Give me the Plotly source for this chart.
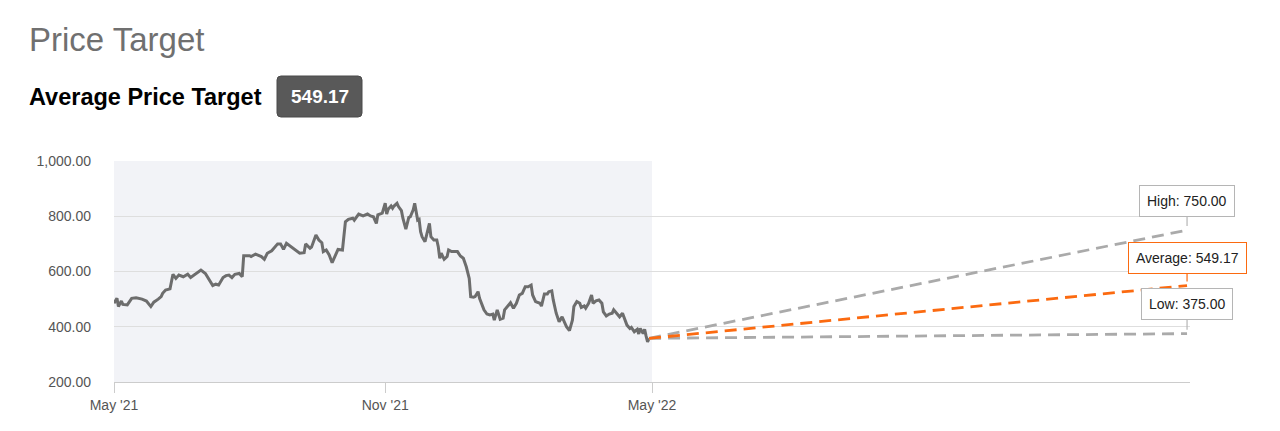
import plotly.graph_objects as go

price_dates = [
    "2021-05-01", "2021-05-03", "2021-05-04", "2021-05-06", "2021-05-07", "2021-05-10", "2021-05-13",
    "2021-05-16", "2021-05-20", "2021-05-23", "2021-05-26", "2021-05-28", "2021-05-31", "2021-06-02",
    "2021-06-03", "2021-06-05", "2021-06-08", "2021-06-10", "2021-06-12", "2021-06-14", "2021-06-17",
    "2021-06-20", "2021-06-22", "2021-06-26", "2021-06-29", "2021-07-02", "2021-07-04", "2021-07-07",
    "2021-07-09", "2021-07-11", "2021-07-14", "2021-07-16", "2021-07-18", "2021-07-20", "2021-07-22",
    "2021-07-25", "2021-07-27", "2021-07-28", "2021-08-01", "2021-08-02", "2021-08-05", "2021-08-09",
    "2021-08-11", "2021-08-13", "2021-08-16", "2021-08-20", "2021-08-22", "2021-08-24", "2021-08-26",
    "2021-08-29", "2021-09-01", "2021-09-04", "2021-09-07", "2021-09-08", "2021-09-11", "2021-09-12",
    "2021-09-15", "2021-09-17", "2021-09-19", "2021-09-20", "2021-09-22", "2021-09-24", "2021-09-26",
    "2021-09-29", "2021-09-30", "2021-10-03", "2021-10-05", "2021-10-07", "2021-10-10", "2021-10-11",
    "2021-10-14", "2021-10-17", "2021-10-20", "2021-10-22", "2021-10-24", "2021-10-26", "2021-10-27",
    "2021-10-30", "2021-11-01", "2021-11-02", "2021-11-03", "2021-11-05", "2021-11-06", "2021-11-07",
    "2021-11-09", "2021-11-10", "2021-11-12", "2021-11-13", "2021-11-15", "2021-11-17", "2021-11-18",
    "2021-11-20", "2021-11-21", "2021-11-23", "2021-11-24", "2021-11-25", "2021-11-26", "2021-11-28",
    "2021-11-30", "2021-12-01", "2021-12-02", "2021-12-04", "2021-12-06", "2021-12-07", "2021-12-08",
    "2021-12-09", "2021-12-11", "2021-12-13", "2021-12-14", "2021-12-16", "2021-12-20", "2021-12-22",
    "2021-12-24", "2021-12-26", "2021-12-28", "2021-12-29", "2021-12-31", "2022-01-01", "2022-01-03",
    "2022-01-04", "2022-01-07", "2022-01-09", "2022-01-11", "2022-01-13", "2022-01-14", "2022-01-16",
    "2022-01-18", "2022-01-20", "2022-01-21", "2022-01-24", "2022-01-25", "2022-01-27", "2022-01-29",
    "2022-01-31", "2022-02-02", "2022-02-04", "2022-02-06", "2022-02-08", "2022-02-09", "2022-02-11",
    "2022-02-14", "2022-02-15", "2022-02-17", "2022-02-19", "2022-02-20", "2022-02-22", "2022-02-23",
    "2022-02-25", "2022-02-27", "2022-03-01", "2022-03-03", "2022-03-04", "2022-03-06", "2022-03-08",
    "2022-03-09", "2022-03-11", "2022-03-13", "2022-03-14", "2022-03-16", "2022-03-17", "2022-03-19",
    "2022-03-21", "2022-03-22", "2022-03-24", "2022-03-26", "2022-03-28", "2022-03-29", "2022-03-31",
    "2022-04-02", "2022-04-04", "2022-04-05", "2022-04-07", "2022-04-09", "2022-04-11", "2022-04-12",
    "2022-04-14", "2022-04-16", "2022-04-17", "2022-04-19", "2022-04-21", "2022-04-22", "2022-04-23",
    "2022-04-25", "2022-04-26", "2022-04-27", "2022-04-28", "2022-04-29",
]
price_values = [
    485, 503, 473, 493, 481, 479, 503,
    505, 500, 493, 473, 489, 500, 509,
    521, 533, 537, 590, 575, 587, 581,
    590, 578, 593, 605, 593, 575, 549,
    554, 551, 578, 585, 587, 578, 590,
    593, 581, 657, 657, 654, 663, 654,
    644, 666, 675, 700, 700, 680, 702,
    690, 675, 666, 668, 700, 684, 688,
    732, 714, 704, 672, 678, 660, 632,
    672, 680, 678, 780, 789, 793, 786,
    808, 801, 808, 801, 798, 774, 805,
    811, 847, 808, 825, 837, 829, 837,
    847, 835, 820, 793, 753, 796, 798,
    823, 847, 786, 789, 744, 726, 708,
    750, 774, 726, 714, 714, 690, 648,
    666, 644, 654, 678, 672, 672, 656,
    648, 617, 575, 509, 507, 509, 527,
    503, 461, 446, 443, 446, 424, 461,
    427, 431, 461, 479, 487, 467, 485,
    515, 521, 545, 545, 551, 515, 491,
    485, 475, 519, 519, 527, 530, 497,
    449, 418, 436, 412, 400, 386, 424,
    473, 491, 485, 470, 475, 467, 485,
    515, 485, 494, 497, 485, 454, 439,
    446, 449, 461, 449, 436, 449, 434,
    406, 394, 398, 382, 391, 374, 394,
    376, 391, 366, 345, 358,
]

target_labels = ["High", "Average", "Low"]
target_values = [750.00, 549.17, 375.00]
target_date = "2023-04-29"
average_target = 549.17

x_range = ["2021-05-01", "2023-05-01"]
history_end = "2022-05-01"
x_tick_vals = ["2021-05-01", "2021-11-01", "2022-05-01"]
x_tick_text = ["May '21", "Nov '21", "May '22"]
y_tick_vals = [200, 400, 600, 800, 1000]

FONT = "Helvetica, Arial, Liberation Sans, sans-serif"
GREY_DASH = "#aaaaaa"
ORANGE = "#fb6a10"

# plot area in page pixels: x 114..1190, y 161..382 (page has 8px body margin)
PL, PR, PT, PB = 114, 1190, 161, 382
PW, PH = PR - PL, PB - PT


def px(x):
    return (x - PL) / PW


def py(y):
    return (PB - y) / PH


fig = go.Figure()

fig.add_trace(go.Scatter(
    x=price_dates, y=price_values, mode="lines",
    line=dict(color="#6d6d6d", width=3), hoverinfo="skip", showlegend=False,
))

start_date = price_dates[-1]
start_val = price_values[-1]
colors = {"High": GREY_DASH, "Average": ORANGE, "Low": GREY_DASH}
order = ["High", "Low", "Average"]
for lab in order:
    v = target_values[target_labels.index(lab)]
    fig.add_trace(go.Scatter(
        x=[start_date, target_date], y=[start_val, v], mode="lines",
        line=dict(color=colors[lab], width=2.8, dash="12px,7px"),
        hoverinfo="skip", showlegend=False,
    ))

ay_off = {"High": -29, "Average": -28, "Low": -30}
for lab, v in zip(target_labels, target_values):
    c = ORANGE if lab == "Average" else "#b5b5b5"
    fig.add_annotation(
        x=target_date, y=v, xref="x", yref="y",
        text=f"{lab}: {v:,.2f}", showarrow=True, arrowhead=0,
        arrowcolor=c, arrowwidth=1.2,
        ax=0, ay=ay_off[lab], standoff=4,
        font=dict(family=FONT, size=14, color="#222"),
        bgcolor="white", bordercolor=c,
        borderwidth=1, borderpad=7,
    )

# shaded history region
fig.add_shape(type="rect", xref="x", yref="paper", x0=x_range[0], x1=history_end,
              y0=0, y1=1, fillcolor="#f2f3f7", line=dict(width=0), layer="below")

# headings
fig.add_annotation(xref="paper", yref="paper", x=px(27), y=py(40), xanchor="left", yanchor="middle",
                   text="Price Target", showarrow=False,
                   font=dict(family=FONT, size=33, color="#707070"))
fig.add_annotation(xref="paper", yref="paper", x=px(27), y=py(97), xanchor="left", yanchor="middle",
                   text="<b>Average Price Target</b>", showarrow=False,
                   font=dict(family=FONT, size=23.5, color="#000"))
# badge
x0b, x1b = px(277), px(362)
y0b, y1b = py(117), py(76)
rx, ry = 4 / PW, 4 / PH
path = (f"M {x0b+rx},{y0b} L {x1b-rx},{y0b} Q {x1b},{y0b} {x1b},{y0b+ry} "
        f"L {x1b},{y1b-ry} Q {x1b},{y1b} {x1b-rx},{y1b} L {x0b+rx},{y1b} "
        f"Q {x0b},{y1b} {x0b},{y1b-ry} L {x0b},{y0b+ry} Q {x0b},{y0b} {x0b+rx},{y0b} Z")
fig.add_shape(type="path", xref="paper", yref="paper", path=path,
              fillcolor="#595959", line=dict(color="#4a4a4a", width=1), layer="above")
fig.add_annotation(xref="paper", yref="paper", x=(x0b + x1b) / 2, y=(y0b + y1b) / 2,
                   xanchor="center", yanchor="middle", text=f"<b>{average_target:.2f}</b>",
                   showarrow=False, font=dict(family=FONT, size=19, color="white"))

fig.update_layout(
    width=1272, height=423,
    margin=dict(l=PL - 8, r=1272 + 8 - PR, t=PT - 8, b=423 + 8 - PB),
    paper_bgcolor="white", plot_bgcolor="white",
    font=dict(family=FONT, color="#555"),
    showlegend=False,
    xaxis=dict(
        type="date", range=x_range, tickvals=x_tick_vals, ticktext=x_tick_text,
        showgrid=False, zeroline=False, showline=True, linecolor="#cccccc", linewidth=1,
        ticks="outside", ticklen=10, tickcolor="#cccccc",
        tickfont=dict(family=FONT, size=14, color="#555"),
    ),
    yaxis=dict(
        range=[200, 1000], tickvals=y_tick_vals, tickformat=",.2f",
        showgrid=True, gridcolor="#dedede", gridwidth=1, zeroline=False, showline=False,
        ticks="", ticklabelstandoff=22,
        tickfont=dict(family=FONT, size=14, color="#555"),
    ),
)

fig.write_html("out.html")
